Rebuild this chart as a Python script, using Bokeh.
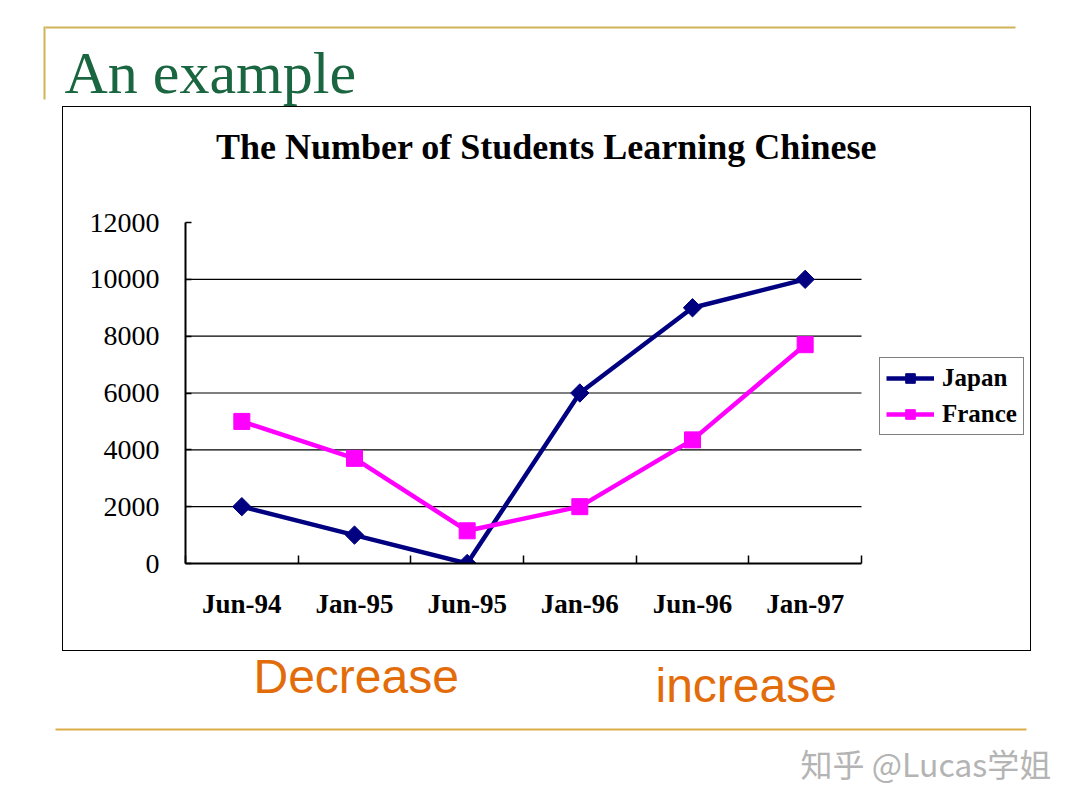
import math
from bokeh.plotting import figure
from bokeh.layouts import column, row
from bokeh.models import (Legend, LegendItem, FixedTicker, Range1d, LinearAxis, Spacer, Label)
from bokeh.core.properties import value
from bokeh.embed import file_html
from bokeh.resources import INLINE

# ---- data ----
categories = ["Jun-94", "Jan-95", "Jun-95", "Jan-96", "Jun-96", "Jan-97"]
japan = [2000, 1000, 0, 6000, 9000, 10000]
france = [5000, 3700, 1150, 2000, 4350, 7700]
y_ticks = [0, 2000, 4000, 6000, 8000, 10000, 12000]
grid_values = [2000, 4000, 6000, 8000, 10000]
series_names = ["Japan", "France"]

slide_title = "An example"
chart_title = "The Number of Students Learning Chinese"
note_left = "Decrease"
note_right = "increase"
watermark = "知乎 @Lucas学姐"

n = len(categories)
x_pos = [i + 0.5 for i in range(n)]
boundaries = list(range(n + 1))

# ---- layout constants (pixels) ----
W = 1064
HDR_H = 106
CH_W, CH_H = 969, 545          # chart box (CSS border drawn around it)
FTR_H = 794 - HDR_H - CH_H
FRAME_LEFT, FRAME_RIGHT, FRAME_BOTTOM = 122, 5, 89
FRAME_W = CH_W - FRAME_LEFT - FRAME_RIGHT
FRAME_H = CH_H - FRAME_BOTTOM
PLOT_W, PLOT_H = 676, 341       # pixel size of the data area inside the frame


def deco_fig(h, y_top):
    f = figure(width=W, height=h, output_backend="svg", toolbar_location=None,
               x_range=Range1d(0, W), y_range=Range1d(y_top + h, y_top),
               min_border=0, x_axis_type=None, y_axis_type=None)
    f.outline_line_color = None
    f.background_fill_color = "white"
    f.border_fill_color = "white"
    return f


# ---- header (slide title + gold rule) ----
hdr = deco_fig(HDR_H, 0)
hdr.segment(x0=[45, 44], y0=[27, 26], x1=[1015, 44], y1=[27, 99],
            line_color="#cfb35a", line_width=2)
hdr.text(x=[64], y=[72], text=[slide_title], text_font=value("Liberation Serif"),
         text_font_size="60px", text_color="#1a6640", text_baseline="alphabetic")

# ---- chart ----
p = figure(width=CH_W, height=CH_H, output_backend="svg", toolbar_location=None,
           x_range=Range1d(0, n * FRAME_W / PLOT_W),
           y_range=Range1d(y_ticks[0], y_ticks[-1] * FRAME_H / PLOT_H),
           min_border_left=FRAME_LEFT, min_border_right=FRAME_RIGHT, min_border_top=0,
           min_border_bottom=FRAME_BOTTOM,
           x_axis_type=None, y_axis_type=None,
           styles={"border": "1.5px solid black"})
p.outline_line_color = None
p.background_fill_color = "white"
p.border_fill_color = "white"

xaxis = LinearAxis(ticker=FixedTicker(ticks=x_pos, minor_ticks=boundaries),
                   bounds=(0, n),
                   major_label_overrides={x: c for x, c in zip(x_pos, categories)},
                   major_tick_in=0, major_tick_out=0, minor_tick_in=8, minor_tick_out=0,
                   minor_tick_line_color="black", minor_tick_line_width=1.5,
                   axis_line_color="black", axis_line_width=2,
                   major_label_standoff=25,
                   major_label_text_font="Liberation Serif", major_label_text_font_style="bold",
                   major_label_text_font_size="27px", major_label_text_color="black")
p.add_layout(xaxis, "below")

yaxis = LinearAxis(ticker=FixedTicker(ticks=y_ticks),
                   bounds=(y_ticks[0], y_ticks[-1]),
                   major_tick_in=6, major_tick_out=0, minor_tick_in=0, minor_tick_out=0,
                   major_tick_line_color="black", major_tick_line_width=1.5,
                   axis_line_color="black", axis_line_width=2,
                   major_label_standoff=26,
                   major_label_text_font="Liberation Serif",
                   major_label_text_font_size="28px", major_label_text_color="black")
p.add_layout(yaxis, "left")

# horizontal gridlines across the category span
p.segment(x0=[0] * len(grid_values), x1=[n] * len(grid_values),
          y0=grid_values, y1=grid_values, line_color="black", line_width=1.2)

r1 = p.line(x_pos, japan, line_color="#000080", line_width=4.5)
r2 = p.scatter(x_pos, japan, marker="square", angle=math.pi / 4, size=13,
               fill_color="#000080", line_color="#000080")
r3 = p.line(x_pos, france, line_color="#ff00ff", line_width=4.5)
r4 = p.scatter(x_pos, france, marker="square", size=16,
               fill_color="#ff00ff", line_color="#ff00ff")

p.add_layout(Label(x=361, y=417, x_units="screen", y_units="screen", text=chart_title,
                   text_font="Liberation Serif", text_font_style="bold",
                   text_font_size="36px", text_color="black",
                   text_align="center", text_baseline="middle"))

legend = Legend(items=[LegendItem(label=series_names[0], renderers=[r1, r2]),
                       LegendItem(label=series_names[1], renderers=[r3, r4])],
                location=(694, 128), orientation="vertical",
                border_line_color="black", border_line_width=1.5,
                background_fill_color="white", background_fill_alpha=1,
                label_text_font="Liberation Serif", label_text_font_style="bold",
                label_text_font_size="25px", label_text_color="black",
                glyph_width=48, glyph_height=24, padding=6, spacing=8,
                label_standoff=8, margin=0)
p.add_layout(legend, "center")

# ---- footer (notes, gold rule, watermark) ----
y0 = HDR_H + CH_H
ftr = deco_fig(FTR_H, y0)
ftr.text(x=[253, 655], y=[676, 685], text=[note_left, note_right],
         text_font=value("Liberation Sans"), text_font_size="48px",
         text_color="#e36c0a", text_baseline="alphabetic")
ftr.segment(x0=[55], y0=[729], x1=[1026], y1=[729], line_color="#dcae48", line_width=2)
ftr.text(x=[800], y=[762], text=[watermark], text_font=value("Noto Sans CJK SC"),
         text_font_size="32px", text_color="#b4b4b4", text_baseline="middle")

layout = column(hdr, row(Spacer(width=62, height=CH_H), p), ftr)
open("out.html", "w").write(file_html(layout, INLINE))
